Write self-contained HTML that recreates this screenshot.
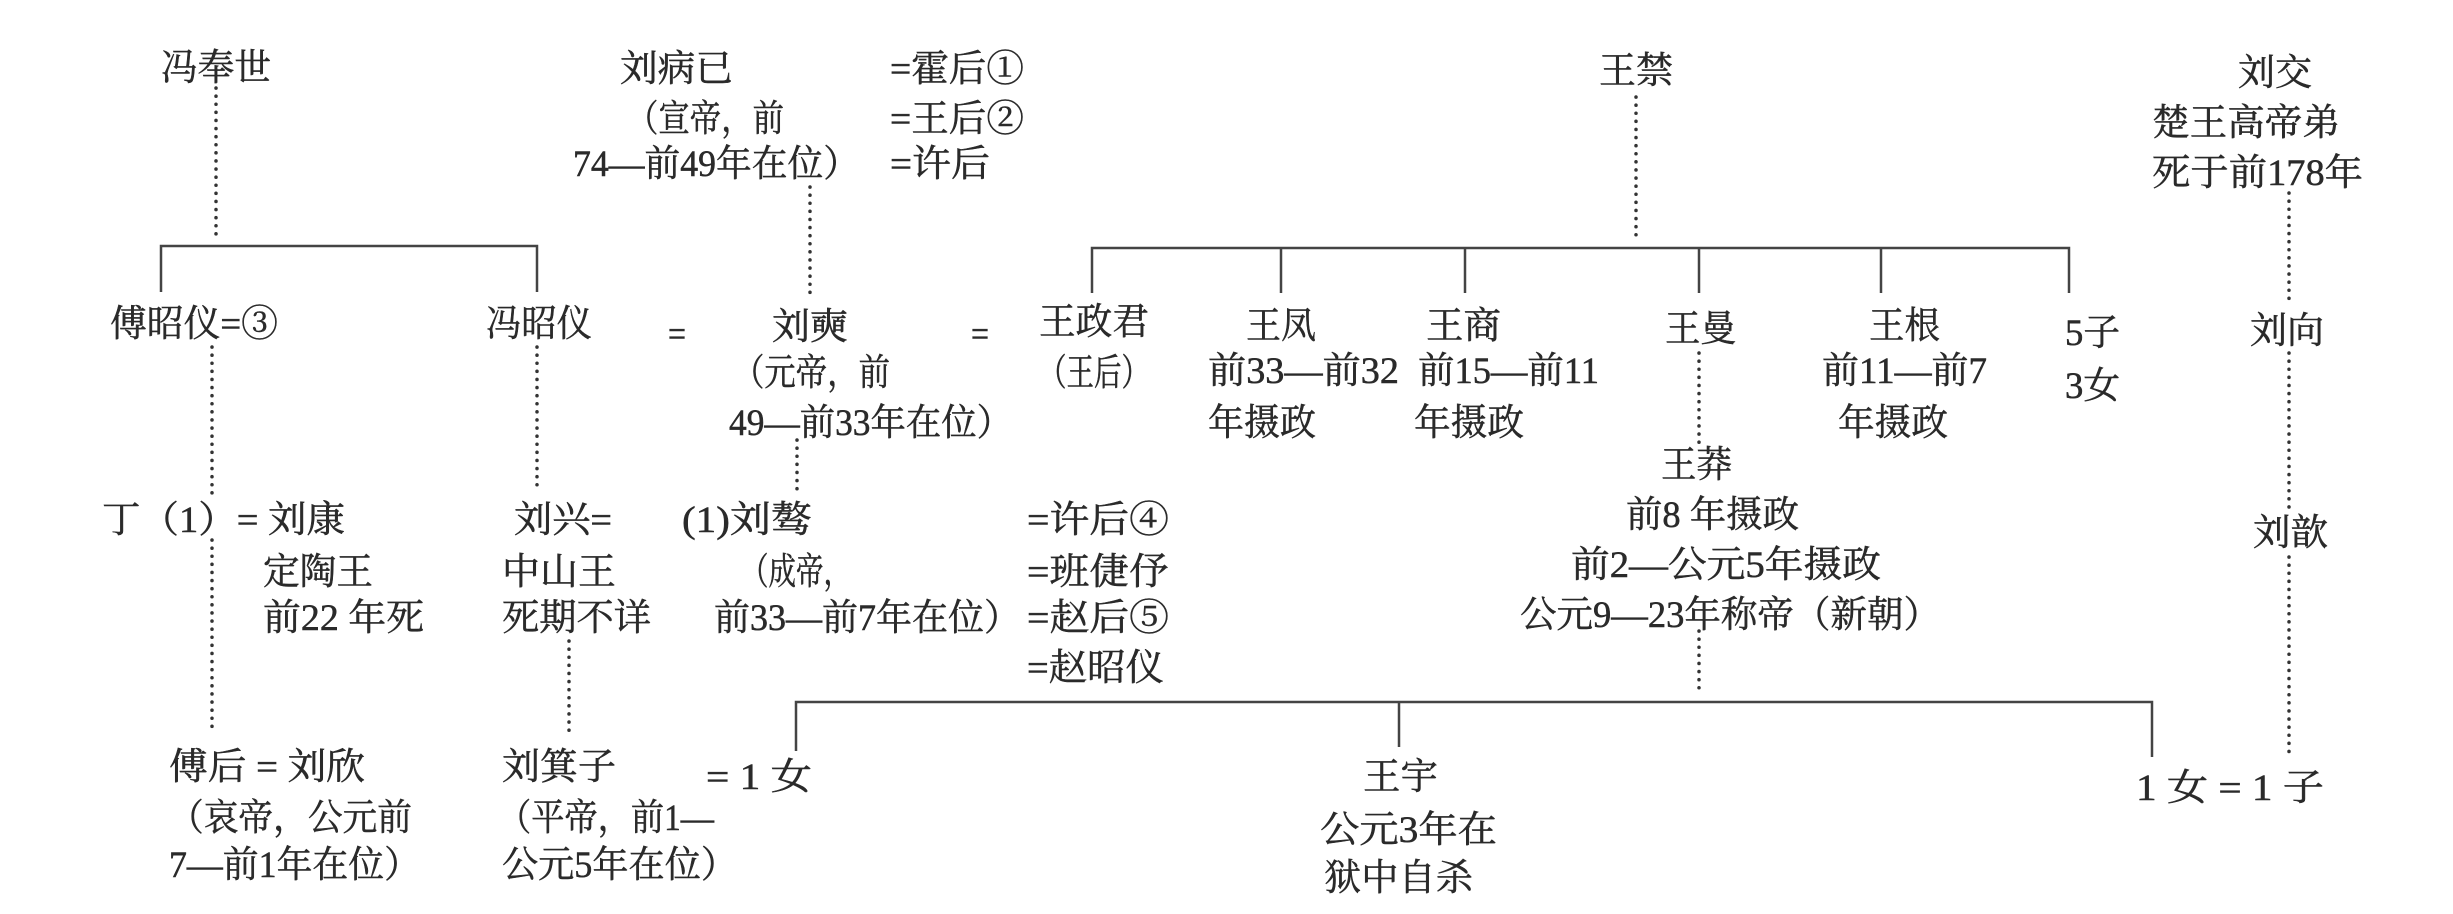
<!DOCTYPE html>
<html><head><meta charset="utf-8"><style>
html,body{margin:0;padding:0;background:#fff;}
svg{display:block;}
text{font-family:"Liberation Serif","Noto Serif CJK SC",serif;font-size:37px;fill:#2a2a2a;stroke:#2a2a2a;stroke-width:0.5px;}
</style></head><body>
<svg width="2453" height="914" viewBox="0 0 2453 914" xmlns="http://www.w3.org/2000/svg">
<g stroke="#444" stroke-width="2.5" fill="none">
<polyline points="161,292 161,246 537,246 537,292"/>
<polyline points="1092,293 1092,248 2069,248 2069,293"/>
<line x1="1281" y1="248" x2="1281" y2="293"/>
<line x1="1465" y1="248" x2="1465" y2="293"/>
<line x1="1699" y1="248" x2="1699" y2="293"/>
<line x1="1881" y1="248" x2="1881" y2="293"/>
<polyline points="796,751 796,702 2152,702 2152,757"/>
<line x1="1399" y1="702" x2="1399" y2="747"/>
</g>
<g stroke="#333" stroke-width="3.5" stroke-linecap="round" stroke-dasharray="0.1 8" fill="none">
<line x1="216" y1="88" x2="216" y2="237"/>
<line x1="810" y1="187" x2="810" y2="300"/>
<line x1="212" y1="347" x2="212" y2="500"/>
<line x1="212" y1="540" x2="212" y2="731"/>
<line x1="537" y1="347" x2="537" y2="487"/>
<line x1="569" y1="641" x2="569" y2="731"/>
<line x1="797" y1="440" x2="797" y2="493"/>
<line x1="1636" y1="97" x2="1636" y2="240"/>
<line x1="1699" y1="353" x2="1699" y2="443"/>
<line x1="1699" y1="631" x2="1699" y2="694"/>
<line x1="2289" y1="193" x2="2289" y2="300"/>
<line x1="2289" y1="353" x2="2289" y2="507"/>
<line x1="2289" y1="557" x2="2289" y2="754"/>
</g>
<g>
<text x="161" y="80" textLength="110" lengthAdjust="spacingAndGlyphs">冯奉世</text>
<text x="620" y="81" textLength="113" lengthAdjust="spacingAndGlyphs">刘病已</text>
<text x="627" y="131" textLength="157" lengthAdjust="spacingAndGlyphs">（宣帝，前</text>
<text x="573" y="176" textLength="286" lengthAdjust="spacingAndGlyphs">74—前49年在位）</text>
<text x="890" y="81" textLength="134" lengthAdjust="spacingAndGlyphs">=霍后①</text>
<text x="890" y="131" textLength="134" lengthAdjust="spacingAndGlyphs">=王后②</text>
<text x="890" y="176" textLength="100" lengthAdjust="spacingAndGlyphs">=许后</text>
<text x="1599" y="83" textLength="74" lengthAdjust="spacingAndGlyphs">王禁</text>
<text x="2238" y="85" textLength="74" lengthAdjust="spacingAndGlyphs">刘交</text>
<text x="2152" y="135" textLength="188" lengthAdjust="spacingAndGlyphs">楚王高帝弟</text>
<text x="2152" y="185" textLength="211" lengthAdjust="spacingAndGlyphs">死于前178年</text>

<text x="110" y="336" textLength="168" lengthAdjust="spacingAndGlyphs">傅昭仪=③</text>
<text x="486" y="336" textLength="106" lengthAdjust="spacingAndGlyphs">冯昭仪</text>
<text x="668" y="346" textLength="18" lengthAdjust="spacingAndGlyphs">=</text>
<text x="772" y="339" textLength="76" lengthAdjust="spacingAndGlyphs">刘奭</text>
<text x="971" y="346" textLength="18" lengthAdjust="spacingAndGlyphs">=</text>
<text x="733" y="385" textLength="157" lengthAdjust="spacingAndGlyphs">（元帝，前</text>
<text x="729" y="435" textLength="283" lengthAdjust="spacingAndGlyphs">49—前33年在位）</text>
<text x="1039" y="334" textLength="110" lengthAdjust="spacingAndGlyphs">王政君</text>
<text x="1039" y="385" textLength="110" lengthAdjust="spacingAndGlyphs">（王后）</text>
<text x="1246" y="338" textLength="70" lengthAdjust="spacingAndGlyphs">王凤</text>
<text x="1208" y="383" textLength="191" lengthAdjust="spacingAndGlyphs">前33—前32</text>
<text x="1208" y="435" textLength="108" lengthAdjust="spacingAndGlyphs">年摄政</text>
<text x="1426" y="338" textLength="75" lengthAdjust="spacingAndGlyphs">王商</text>
<text x="1418" y="383" textLength="181" lengthAdjust="spacingAndGlyphs">前15—前11</text>
<text x="1414" y="435" textLength="110" lengthAdjust="spacingAndGlyphs">年摄政</text>
<text x="1665" y="341" textLength="71" lengthAdjust="spacingAndGlyphs">王曼</text>
<text x="1869" y="338" textLength="71" lengthAdjust="spacingAndGlyphs">王根</text>
<text x="1822" y="383" textLength="165" lengthAdjust="spacingAndGlyphs">前11—前7</text>
<text x="1838" y="435" textLength="110" lengthAdjust="spacingAndGlyphs">年摄政</text>
<text x="2065" y="345" textLength="55" lengthAdjust="spacingAndGlyphs">5子</text>
<text x="2065" y="398" textLength="55" lengthAdjust="spacingAndGlyphs">3女</text>
<text x="2250" y="343" textLength="74" lengthAdjust="spacingAndGlyphs">刘向</text>

<text x="102" y="532" textLength="243" lengthAdjust="spacingAndGlyphs">丁（1）= 刘康</text>
<text x="263" y="584" textLength="110" lengthAdjust="spacingAndGlyphs">定陶王</text>
<text x="263" y="630" textLength="161" lengthAdjust="spacingAndGlyphs">前22 年死</text>
<text x="514" y="532" textLength="98" lengthAdjust="spacingAndGlyphs">刘兴=</text>
<text x="502" y="584" textLength="114" lengthAdjust="spacingAndGlyphs">中山王</text>
<text x="502" y="630" textLength="149" lengthAdjust="spacingAndGlyphs">死期不详</text>
<text x="682" y="532" textLength="130" lengthAdjust="spacingAndGlyphs">(1)刘骜</text>
<text x="741" y="584" textLength="110" lengthAdjust="spacingAndGlyphs">（成帝，</text>
<text x="714" y="630" textLength="306" lengthAdjust="spacingAndGlyphs">前33—前7年在位）</text>
<text x="1027" y="532" textLength="142" lengthAdjust="spacingAndGlyphs">=许后④</text>
<text x="1027" y="584" textLength="142" lengthAdjust="spacingAndGlyphs">=班倢伃</text>
<text x="1027" y="630" textLength="142" lengthAdjust="spacingAndGlyphs">=赵后⑤</text>
<text x="1027" y="680" textLength="137" lengthAdjust="spacingAndGlyphs">=赵昭仪</text>
<text x="1661" y="477" textLength="71" lengthAdjust="spacingAndGlyphs">王莽</text>
<text x="1626" y="527" textLength="173" lengthAdjust="spacingAndGlyphs">前8 年摄政</text>
<text x="1571" y="577" textLength="310" lengthAdjust="spacingAndGlyphs">前2—公元5年摄政</text>
<text x="1520" y="627" textLength="420" lengthAdjust="spacingAndGlyphs">公元9—23年称帝（新朝）</text>
<text x="2253" y="545" textLength="75" lengthAdjust="spacingAndGlyphs">刘歆</text>

<text x="169" y="779" textLength="196" lengthAdjust="spacingAndGlyphs">傅后 = 刘欣</text>
<text x="169" y="830" textLength="243" lengthAdjust="spacingAndGlyphs">（哀帝，公元前</text>
<text x="169" y="877" textLength="251" lengthAdjust="spacingAndGlyphs">7—前1年在位）</text>
<text x="502" y="779" textLength="114" lengthAdjust="spacingAndGlyphs">刘箕子</text>
<text x="498" y="830" textLength="216" lengthAdjust="spacingAndGlyphs">（平帝，前1—</text>
<text x="502" y="877" textLength="235" lengthAdjust="spacingAndGlyphs">公元5年在位）</text>
<text x="706" y="789" textLength="106" lengthAdjust="spacingAndGlyphs">= 1 女</text>
<text x="1363" y="789" textLength="75" lengthAdjust="spacingAndGlyphs">王宇</text>
<text x="1320" y="842" textLength="177" lengthAdjust="spacingAndGlyphs">公元3年在</text>
<text x="1324" y="890" textLength="149" lengthAdjust="spacingAndGlyphs">狱中自杀</text>
<text x="2136" y="800" textLength="188" lengthAdjust="spacingAndGlyphs">1 女 = 1 子</text>
</g>
</svg>
</body></html>
